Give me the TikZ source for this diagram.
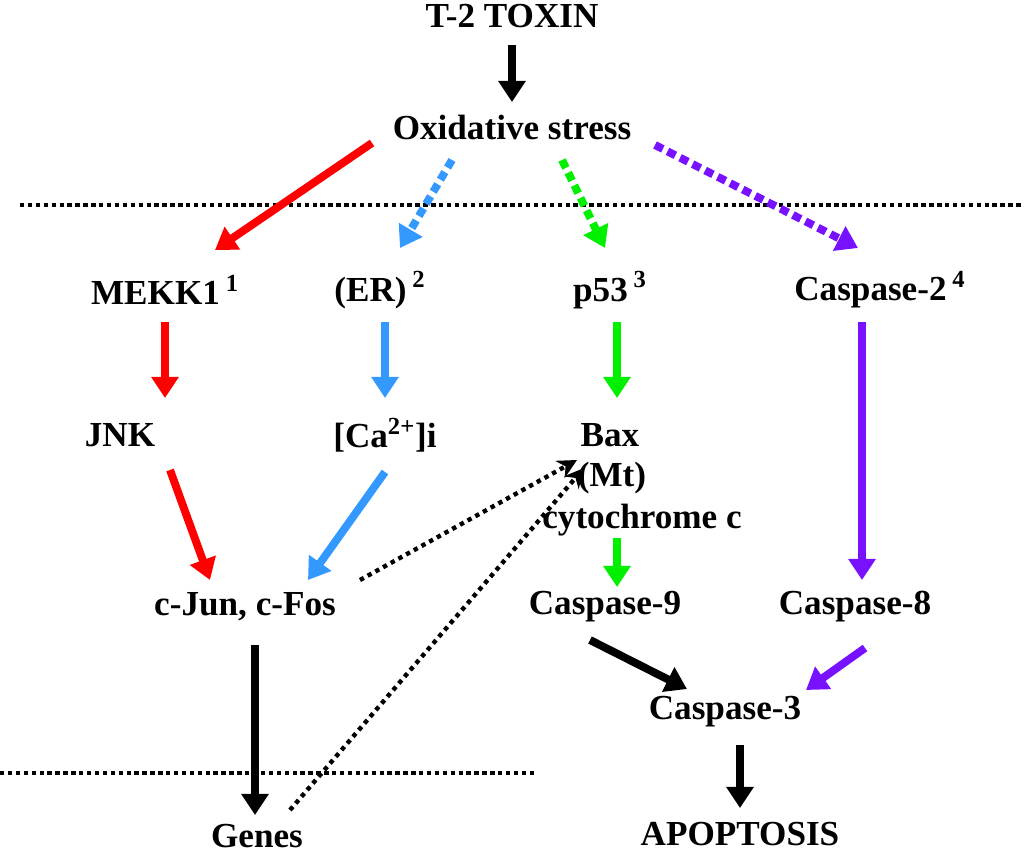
\documentclass[tikz,border=0pt]{standalone}
\usepackage{fontspec}
\setmainfont{Liberation Serif}
\usetikzlibrary{arrows.meta}
\definecolor{cred}{RGB}{255,0,0}
\definecolor{cblue}{RGB}{51,153,255}
\definecolor{cgreen}{RGB}{0,240,0}
\definecolor{cpurple}{RGB}{119,17,255}
\begin{document}
\begin{tikzpicture}[x=0.02cm,y=-0.02cm,
  lbl/.style={font=\fontsize{20}{24}\selectfont\bfseries, inner sep=1pt},
  arr/.style={line width=4.5pt,-{Triangle[length=12pt,width=15pt]}},
  dsh/.style={arr,dash pattern=on 5pt off 3pt},
  dot/.style={line width=2.5pt,dotted},
  dotarr/.style={line width=2.5pt,dash pattern=on 2.5pt off 2.5pt,-{Stealth[length=11pt,width=11pt]}}]
\useasboundingbox (0,0) rectangle (1024,856);
\node[lbl] (t2) at (512,16) {T-2 TOXIN};
\node[lbl] (ox) at (512,127) {Oxidative stress};
\node[lbl] (mekk) at (165,290) {MEKK1\,\textsuperscript{1}};
\node[lbl] (er) at (380,290) {(ER)\,\textsuperscript{2}};
\node[lbl] (p53) at (610,290) {p53\,\textsuperscript{3}};
\node[lbl] (c2) at (880,290) {Caspase-2\,\textsuperscript{4}};
\node[lbl] (jnk) at (120,435) {JNK};
\node[lbl] (ca) at (385,435) {[Ca\textsuperscript{2+}]i};
\node[lbl] (bax) at (610,435) {Bax};
\node[lbl] (mt) at (612,478) {(Mt)};
\node[lbl] (cyt) at (642,520) {cytochrome c};
\node[lbl] (jun) at (245,607) {c-Jun, c-Fos};
\node[lbl] (c9) at (605,607) {Caspase-9};
\node[lbl] (c8) at (855,607) {Caspase-8};
\node[lbl] (c3) at (725,712) {Caspase-3};
\node[lbl] (genes) at (257,836) {Genes};
\node[lbl] (apo) at (740,834) {APOPTOSIS};
\coordinate (l1a) at (20,205); \coordinate (l1b) at (1024,205);
\coordinate (l2a) at (0,773); \coordinate (l2b) at (535,773);
\draw[dot] (l1a) -- (l1b);
\draw[dot] (l2a) -- (l2b);
\draw[arr] (512,45) -- (512,102);
\draw[arr,cred] (372,143) -- (215,250);
\draw[dsh,cblue] (452,160) -- (400,248);
\draw[dsh,cgreen] (562,160) -- (605,248);
\draw[dsh,cpurple] (655,145) -- (858,248);
\draw[arr,cred] (165,322) -- (165,398);
\draw[arr,cblue] (385,322) -- (385,398);
\draw[arr,cgreen] (617,322) -- (617,398);
\draw[arr,cpurple] (862,322) -- (862,580);
\draw[arr,cred] (170,470) -- (210,580);
\draw[arr,cblue] (385,472) -- (308,580);
\draw[arr,cgreen] (617,538) -- (617,587);
\draw[arr] (255,645) -- (255,815);
\draw[arr] (590,640) -- (687,689);
\draw[arr,cpurple] (865,648) -- (806,690);
\draw[arr] (740,745) -- (740,808);
\draw[dotarr] (360,580) -- (577,460);
\draw[dotarr] (290,810) -- (584,468);
\end{tikzpicture}
\end{document}
